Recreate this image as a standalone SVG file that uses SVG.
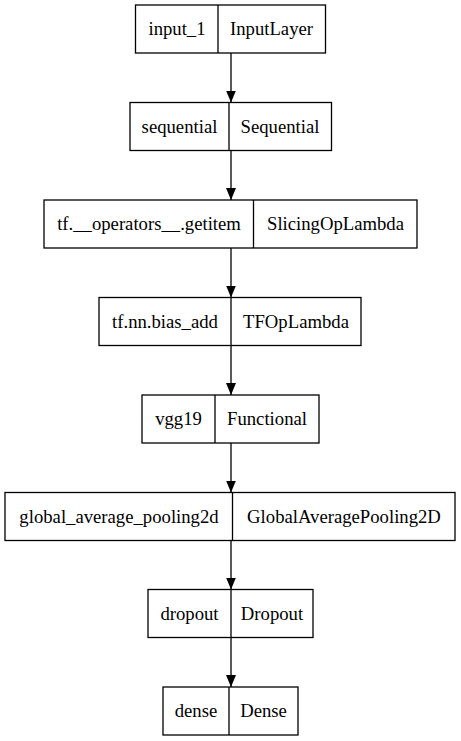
<svg xmlns="http://www.w3.org/2000/svg" width="461" height="741" viewBox="0 0 461 741">
<defs>
<style>
.box{fill:#fff;stroke:#000;stroke-width:1.3}
.div{stroke:#000;stroke-width:1.3}
text{font-family:"Liberation Serif","Times New Roman",serif;font-size:18.7px;fill:#000;text-anchor:middle}
.edge{stroke:#000;stroke-width:1.3;fill:none}
</style>
<marker id="ah" markerWidth="12" markerHeight="10" refX="12" refY="5" orient="auto" markerUnits="userSpaceOnUse">
<path d="M0,0 L12,5 L0,10 Z" fill="#000"/>
</marker>
</defs>
<rect width="461" height="741" fill="#fff"/>
<g id="connectors">
<line class="edge" x1="231" y1="53" x2="231" y2="102.5" marker-end="url(#ah)"/>
<line class="edge" x1="231" y1="150.5" x2="231" y2="200" marker-end="url(#ah)"/>
<line class="edge" x1="231" y1="248" x2="231" y2="297.5" marker-end="url(#ah)"/>
<line class="edge" x1="231" y1="345.5" x2="231" y2="395" marker-end="url(#ah)"/>
<line class="edge" x1="231" y1="443" x2="231" y2="492.5" marker-end="url(#ah)"/>
<line class="edge" x1="231" y1="540.5" x2="231" y2="589.5" marker-end="url(#ah)"/>
<line class="edge" x1="231" y1="637.5" x2="231" y2="687" marker-end="url(#ah)"/>
</g>
<g id="input_1">
<rect class="box" x="135.5" y="5" width="190" height="48"/>
<line class="div" x1="218" y1="5" x2="218" y2="53"/>
<text x="177" y="35">input_1</text>
<text x="271.5" y="35">InputLayer</text>
</g>
<g id="sequential">
<rect class="box" x="130" y="102.5" width="201.5" height="48"/>
<line class="div" x1="229" y1="102.5" x2="229" y2="150.5"/>
<text x="179.5" y="132.5">sequential</text>
<text x="280" y="132.5">Sequential</text>
</g>
<g id="getitem">
<rect class="box" x="44" y="200" width="373" height="48"/>
<line class="div" x1="253.5" y1="200" x2="253.5" y2="248"/>
<text x="149" y="230">tf.__operators__.getitem</text>
<text x="335.5" y="230">SlicingOpLambda</text>
</g>
<g id="bias_add">
<rect class="box" x="99" y="297.5" width="262" height="48"/>
<line class="div" x1="231" y1="297.5" x2="231" y2="345.5"/>
<text x="165" y="327.5">tf.nn.bias_add</text>
<text x="296" y="327.5">TFOpLambda</text>
</g>
<g id="vgg19">
<rect class="box" x="142" y="395" width="177" height="48"/>
<line class="div" x1="215" y1="395" x2="215" y2="443"/>
<text x="178.5" y="425">vgg19</text>
<text x="267" y="425">Functional</text>
</g>
<g id="global_average_pooling2d">
<rect class="box" x="5" y="492.5" width="450" height="48"/>
<line class="div" x1="232.5" y1="492.5" x2="232.5" y2="540.5"/>
<text x="119" y="522.5">global_average_pooling2d</text>
<text x="344" y="522.5">GlobalAveragePooling2D</text>
</g>
<g id="dropout">
<rect class="box" x="148" y="589.5" width="165" height="48"/>
<line class="div" x1="231" y1="589.5" x2="231" y2="637.5"/>
<text x="189.5" y="619.5">dropout</text>
<text x="272" y="619.5">Dropout</text>
</g>
<g id="dense">
<rect class="box" x="163" y="687" width="135" height="48"/>
<line class="div" x1="229" y1="687" x2="229" y2="735"/>
<text x="196" y="717">dense</text>
<text x="263.5" y="717">Dense</text>
</g>
</svg>
